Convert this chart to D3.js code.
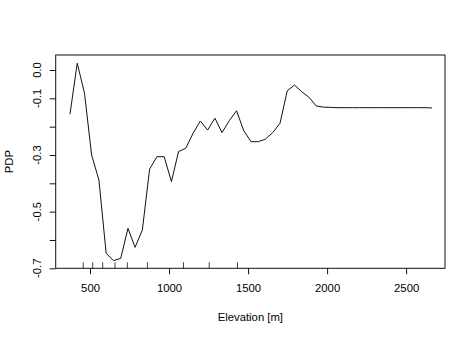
<!DOCTYPE html>
<html>
<head>
<meta charset="utf-8">
<script src="https://cdn.jsdelivr.net/npm/d3@7"></script>
<style>
  html, body { margin: 0; padding: 0; background: #fff; }
  text { font-family: "Liberation Sans", Arial, Helvetica, sans-serif; fill: #000; }
</style>
</head>
<body>
<svg id="chart" width="474" height="338"></svg>
<script>
// Partial dependence of the response on elevation
const elevation = [373, 419, 465, 510, 556, 602, 648, 694, 740, 785,
                   831, 877, 923, 969, 1015, 1060, 1106, 1152, 1198, 1244,
                   1290, 1335, 1381, 1427, 1473, 1519, 1565, 1610, 1656, 1702,
                   1748, 1794, 1840, 1885, 1931, 1977, 2023, 2069, 2115, 2160,
                   2206, 2252, 2298, 2344, 2390, 2435, 2481, 2527, 2573, 2619, 2664];
const pdp = [-0.156, 0.024, -0.082, -0.300, -0.388, -0.647, -0.673, -0.665, -0.559, -0.626,
             -0.565, -0.350, -0.306, -0.306, -0.394, -0.288, -0.276, -0.223, -0.180, -0.212,
             -0.170, -0.221, -0.179, -0.144, -0.215, -0.253, -0.253, -0.244, -0.221, -0.188,
             -0.073, -0.053, -0.077, -0.096, -0.127, -0.131, -0.132, -0.133, -0.133, -0.133,
             -0.133, -0.133, -0.133, -0.133, -0.133, -0.133, -0.133, -0.133, -0.133, -0.133, -0.134];
// Deciles of the observed elevations (rug marks)
const rugValues = [457, 517, 580, 658, 736, 863, 1091, 1254, 1433];
const xTicks = [500, 1000, 1500, 2000, 2500];
const yTicks = [0.0, -0.1, -0.2, -0.3, -0.4, -0.5, -0.6, -0.7];
const yTickLabels = ["0.0", "-0.1", null, "-0.3", null, "-0.5", null, "-0.7"];

const svg = d3.select("#chart");
const box = { left: 55.7, right: 445, top: 55, bottom: 268.3 };

const x = d3.scaleLinear().domain([282.7, 2746]).range([box.left, box.right]);
const y = d3.scaleLinear().domain([-0.7, 0.0]).range([268.3, 70]);

const ink = "#111";

// plot frame
svg.append("rect")
  .attr("x", box.left).attr("y", box.top)
  .attr("width", box.right - box.left).attr("height", box.bottom - box.top)
  .attr("fill", "none").attr("stroke", ink).attr("stroke-width", 1);

// bottom axis
const xAxis = svg.append("g")
  .attr("transform", `translate(0,${box.bottom})`)
  .call(d3.axisBottom(x).tickValues(xTicks).tickSize(6).tickPadding(12)
    .tickFormat(d3.format("d")));
xAxis.select(".domain").remove();
xAxis.selectAll("line").attr("stroke", ink);
xAxis.selectAll("text").attr("font-size", "11.3px").attr("fill", "#000").attr("dy", "0.5em");

// left axis with rotated labels
const yAxis = svg.append("g")
  .attr("transform", `translate(${box.left},0)`)
  .call(d3.axisLeft(y).tickValues(yTicks).tickSize(6).tickFormat(""));
yAxis.select(".domain").remove();
yAxis.selectAll("line").attr("stroke", ink);

svg.append("g").selectAll("text")
  .data(yTicks.map((v, i) => ({ v, label: yTickLabels[i] })).filter(d => d.label))
  .join("text")
  .attr("transform", d => `translate(41,${y(d.v)}) rotate(-90)`)
  .attr("text-anchor", "middle")
  .attr("font-size", "11.3px")
  .text(d => d.label);

// rug
svg.append("g").selectAll("line")
  .data(rugValues)
  .join("line")
  .attr("x1", d => x(d)).attr("x2", d => x(d))
  .attr("y1", box.bottom).attr("y2", box.bottom - 6)
  .attr("stroke", ink).attr("stroke-width", 0.8);

// PDP curve
const line = d3.line().x(d => x(d[0])).y(d => y(d[1]));
svg.append("path")
  .datum(elevation.map((e, i) => [e, pdp[i]]))
  .attr("d", line)
  .attr("fill", "none")
  .attr("stroke", ink)
  .attr("stroke-width", 1);

// axis titles
svg.append("text")
  .attr("x", (box.left + box.right) / 2).attr("y", 320.5)
  .attr("text-anchor", "middle").attr("font-size", "11.3px")
  .text("Elevation [m]");

svg.append("text")
  .attr("transform", `translate(13,${(box.top + box.bottom) / 2}) rotate(-90)`)
  .attr("text-anchor", "middle").attr("font-size", "11.3px")
  .text("PDP");
</script>
</body>
</html>
